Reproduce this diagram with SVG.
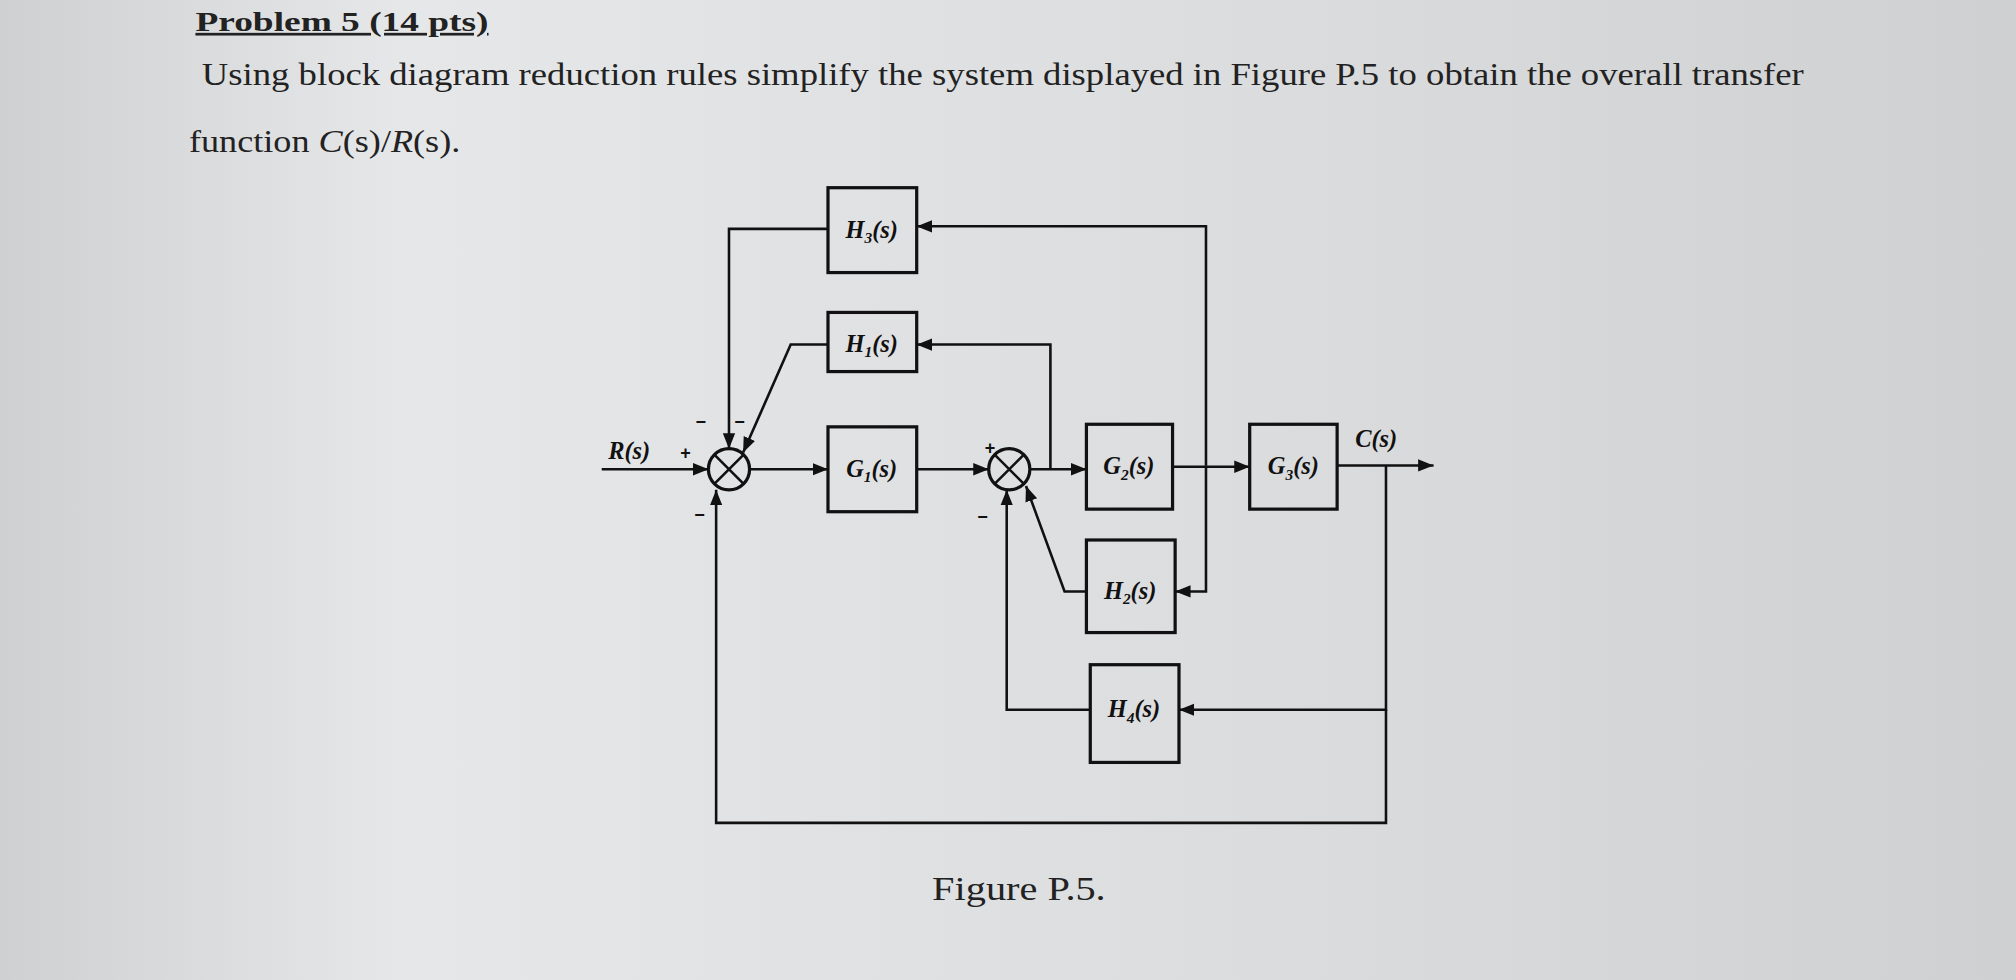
<svg xmlns="http://www.w3.org/2000/svg" width="2016" height="980" viewBox="0 0 2016 980">
<defs>
<linearGradient id="bg" x1="0" y1="0" x2="1" y2="0"><stop offset="0" stop-color="#cfd0d2"/><stop offset="0.2" stop-color="#e6e7e9"/><stop offset="0.6" stop-color="#dcdddf"/><stop offset="1" stop-color="#cfd0d2"/></linearGradient>
<marker id="ah" viewBox="0 0 10 10" refX="10" refY="5" markerWidth="6" markerHeight="6" orient="auto-start-reverse"><path d="M0,1 L10,5 L0,9 z" fill="#111"/></marker>
<style>
.w{fill:none;stroke:#111;stroke-width:2}
.b{fill:none;stroke:#111;stroke-width:2.5}
.t{font-family:"Liberation Serif",serif;fill:#222}
.l{font-family:"Liberation Serif",serif;font-style:italic;font-weight:bold;font-size:19px;fill:#111}
.s{font-family:"Liberation Sans",sans-serif;font-weight:bold;font-size:14px;fill:#111}
</style>
</defs>
<rect width="2016" height="980" fill="url(#bg)"/>
<g transform="scale(1.2857)">
<text class="t" x="152" y="24" font-size="21" font-weight="bold" text-decoration="underline" textLength="228" lengthAdjust="spacingAndGlyphs">Problem 5 (14 pts)</text>
<text class="t" x="157" y="66" font-size="24" textLength="1246" lengthAdjust="spacingAndGlyphs">Using block diagram reduction rules simplify the system displayed in Figure P.5 to obtain the overall transfer</text>
<text class="t" x="147" y="118" font-size="24" textLength="211" lengthAdjust="spacingAndGlyphs">function <tspan font-style="italic">C</tspan>(s)/<tspan font-style="italic">R</tspan>(s).</text>
<text class="t" x="725" y="700" font-size="27" textLength="135" lengthAdjust="spacingAndGlyphs">Figure P.5.</text>
<g id="connectors">
<path class="w" d="M468,365 H551" marker-end="url(#ah)"/>
<path class="w" d="M583,365 H644" marker-end="url(#ah)"/>
<path class="w" d="M713,365 H769" marker-end="url(#ah)"/>
<path class="w" d="M801,365 H845" marker-end="url(#ah)"/>
<path class="w" d="M912,363 H972" marker-end="url(#ah)"/>
<path class="w" d="M1040,362 H1115" marker-end="url(#ah)"/>
<path class="w" d="M644,178 H567 V349" marker-end="url(#ah)"/>
<path class="w" d="M938,362 V176 H713" marker-end="url(#ah)"/>
<path class="w" d="M644,268 H615 L578,352" marker-end="url(#ah)"/>
<path class="w" d="M817,365 V268 H713" marker-end="url(#ah)"/>
<path class="w" d="M845,460 H828 L798,378" marker-end="url(#ah)"/>
<path class="w" d="M938,362 V460 H914" marker-end="url(#ah)"/>
<path class="w" d="M848,552 H783 V381" marker-end="url(#ah)"/>
<path class="w" d="M1078,362 V552 H917" marker-end="url(#ah)"/>
<path class="w" d="M1078,552 V640 H557 V381" marker-end="url(#ah)"/>
</g>
<g id="sum1"><circle class="b" cx="567" cy="365" r="16"/><path class="w" d="M556,354 L578,376 M578,354 L556,376"/></g>
<g id="sum2"><circle class="b" cx="785" cy="365" r="16"/><path class="w" d="M774,354 L796,376 M796,354 L774,376"/></g>
<g id="H3"><rect class="b" x="644" y="146" width="69" height="66" fill="none"/><text class="l" x="678" y="185" text-anchor="middle">H<tspan font-size="12" dy="4">3</tspan><tspan dy="-4">(s)</tspan></text></g>
<g id="H1"><rect class="b" x="644" y="243" width="69" height="46" fill="none"/><text class="l" x="678" y="274" text-anchor="middle">H<tspan font-size="12" dy="4">1</tspan><tspan dy="-4">(s)</tspan></text></g>
<g id="G1"><rect class="b" x="644" y="332" width="69" height="66" fill="none"/><text class="l" x="678" y="371" text-anchor="middle">G<tspan font-size="12" dy="4">1</tspan><tspan dy="-4">(s)</tspan></text></g>
<g id="G2"><rect class="b" x="845" y="330" width="67" height="66" fill="none"/><text class="l" x="878" y="369" text-anchor="middle">G<tspan font-size="12" dy="4">2</tspan><tspan dy="-4">(s)</tspan></text></g>
<g id="G3"><rect class="b" x="972" y="330" width="68" height="66" fill="none"/><text class="l" x="1006" y="369" text-anchor="middle">G<tspan font-size="12" dy="4">3</tspan><tspan dy="-4">(s)</tspan></text></g>
<g id="H2"><rect class="b" x="845" y="420" width="69" height="72" fill="none"/><text class="l" x="879" y="466" text-anchor="middle">H<tspan font-size="12" dy="4">2</tspan><tspan dy="-4">(s)</tspan></text></g>
<g id="H4"><rect class="b" x="848" y="517" width="69" height="76" fill="none"/><text class="l" x="882" y="558" text-anchor="middle">H<tspan font-size="12" dy="4">4</tspan><tspan dy="-4">(s)</tspan></text></g>
<text class="l" x="473" y="357">R(s)</text>
<text class="l" x="1054" y="348">C(s)</text>
<text class="s" x="529" y="357">+</text>
<text class="s" x="541" y="333">−</text>
<text class="s" x="571" y="333">−</text>
<text class="s" x="540" y="405">−</text>
<text class="s" x="766" y="353">+</text>
<text class="s" x="760" y="407">−</text>
</g>
</svg>
